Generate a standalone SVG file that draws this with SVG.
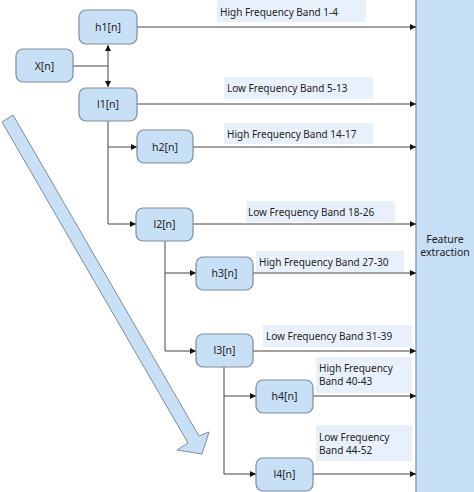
<svg xmlns="http://www.w3.org/2000/svg" width="474" height="492" viewBox="0 0 474 492">
<defs>
<marker id="ah" markerUnits="userSpaceOnUse" markerWidth="7" markerHeight="6" refX="6" refY="3" orient="auto-start-reverse">
<path d="M0,0 L6,3 L0,6 z" fill="#111"/>
</marker>
<style>
.node rect{fill:#c8e0f6;stroke:#7d8c9c;stroke-width:1.2}
.node text{font-family:"Noto Sans","Open Sans",sans-serif;font-size:10.5px;fill:#222;text-anchor:middle}
.lbl rect{fill:#e8f1fb;stroke:none}
.lbl text{font-family:"Noto Sans","Open Sans",sans-serif;font-size:10px;fill:#222}
.conn path{fill:none;stroke:#444;stroke-width:1}
.arr{marker-end:url(#ah)}
</style>
</defs>
<rect width="474" height="492" fill="#fff"/>
<g id="big-arrow">
<polygon points="2,122 13,115 199,436 209,432 202,454 177,450 188,443" fill="#c8e0f6" stroke="#7d8c9c" stroke-width="1"/>
</g>
<g id="feature-extraction" class="node">
<rect x="416" y="-2" width="60" height="496" rx="0"/>
<text x="445" y="243">Feature</text>
<text x="445" y="256">extraction</text>
</g>
<g id="labels" class="lbl">
<g id="lbl1"><rect x="217" y="0" width="149" height="22"/><text x="220" y="16">High Frequency Band 1-4</text></g>
<g id="lbl2"><rect x="224" y="77" width="149" height="22"/><text x="227" y="92">Low Frequency Band 5-13</text></g>
<g id="lbl3"><rect x="224" y="123" width="149" height="21"/><text x="227" y="138">High Frequency Band 14-17</text></g>
<g id="lbl4"><rect x="246" y="201" width="149" height="21"/><text x="248" y="216">Low Frequency Band 18-26</text></g>
<g id="lbl5"><rect x="256" y="251" width="148" height="21"/><text x="259" y="266">High Frequency Band 27-30</text></g>
<g id="lbl6"><rect x="263" y="325" width="149" height="22"/><text x="266" y="340">Low Frequency Band 31-39</text></g>
<g id="lbl7"><rect x="316" y="357" width="96" height="36"/><text x="319" y="372">High Frequency</text><text x="319" y="385">Band 40-43</text></g>
<g id="lbl8"><rect x="316" y="425" width="96" height="36"/><text x="319" y="441">Low Frequency</text><text x="319" y="454">Band 44-52</text></g>
</g>
<g id="connectors" class="conn">
<path d="M73,66 H108"/>
<path d="M108,45 V87" marker-start="url(#ah)" marker-end="url(#ah)"/>
<path class="arr" d="M137,27 H416"/>
<path class="arr" d="M137,104 H416"/>
<path class="arr" d="M108,121 V224 H136"/>
<path class="arr" d="M108,147 H137"/>
<path class="arr" d="M193,147 H416"/>
<path class="arr" d="M193,224 H416"/>
<path class="arr" d="M165,241 V351 H196"/>
<path class="arr" d="M165,273 H196"/>
<path class="arr" d="M253,273 H416"/>
<path class="arr" d="M253,351 H416"/>
<path class="arr" d="M224,367 V474 H256"/>
<path class="arr" d="M224,396 H256"/>
<path class="arr" d="M313,396 H416"/>
<path class="arr" d="M313,474 H416"/>
</g>
<g id="h1" class="node"><rect x="79" y="10" width="58" height="34" rx="7"/><text x="108" y="31">h1[n]</text></g>
<g id="X" class="node"><rect x="16" y="49" width="57" height="33" rx="7"/><text x="44.5" y="70">X[n]</text></g>
<g id="l1" class="node"><rect x="79" y="88" width="58" height="33" rx="7"/><text x="108" y="108">l1[n]</text></g>
<g id="h2" class="node"><rect x="137" y="130" width="56" height="33" rx="7"/><text x="165" y="151">h2[n]</text></g>
<g id="l2" class="node"><rect x="136" y="208" width="57" height="33" rx="7"/><text x="164.5" y="228">l2[n]</text></g>
<g id="h3" class="node"><rect x="196" y="257" width="57" height="33" rx="7"/><text x="224.5" y="277">h3[n]</text></g>
<g id="l3" class="node"><rect x="196" y="334" width="57" height="33" rx="7"/><text x="224.5" y="354">l3[n]</text></g>
<g id="h4" class="node"><rect x="256" y="380" width="57" height="33" rx="7"/><text x="284.5" y="400">h4[n]</text></g>
<g id="l4" class="node"><rect x="256" y="458" width="57" height="33" rx="7"/><text x="284.5" y="478">l4[n]</text></g>
</svg>
